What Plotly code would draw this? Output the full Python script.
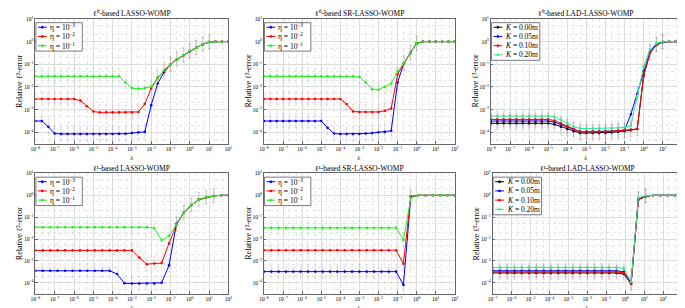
import plotly.graph_objects as go

# ---------------- data (log10 of lambda and of relative l2-error) ----------------
lam_top_exp = [-8, -7.667, -7.333, -7, -6.667, -6.333, -6, -5.667, -5.333, -5, -4.667,
               -4.333, -4, -3.667, -3.333, -3, -2.667, -2.333, -2, -1.667, -1.333, -1,
               -0.667, -0.333, 0, 0.333, 0.667, 1, 1.333, 1.667, 2]
lam_bl_exp = [-8, -7.615, -7.231, -6.846, -6.462, -6.077, -5.692, -5.308, -4.923, -4.538,
              -4.154, -3.769, -3.385, -3.0, -2.615, -2.231, -1.846, -1.462, -1.077, -0.692,
              -0.308, 0.077, 0.462, 0.846, 1.231, 1.615, 2.0]
lam_br_exp = [-7, -6.615, -6.231, -5.846, -5.462, -5.077, -4.692, -4.308, -3.923, -3.538,
              -3.154, -2.769, -2.385, -2.0, -1.615, -1.231, -0.846, -0.462, -0.077, 0.308,
              0.692, 1.077, 1.462, 1.846, 2.231, 2.615, 3.0]

# top-left: l0 LASSO-WOMP
tl_eta3 = [-3.5, -3.5, -3.75, -4.05, -4.07, -4.07, -4.07, -4.07, -4.07, -4.07, -4.07, -4.07,
           -4.07, -4.06, -4.06, -4.03, -4.0, -3.98, -2.8, -1.85, -1.35, -1.0, -0.78, -0.6,
           -0.42, -0.27, -0.12, -0.02, 0, 0, 0]
tl_eta2 = [-2.53, -2.53, -2.53, -2.53, -2.53, -2.53, -2.53, -2.6, -2.85, -3.08, -3.12, -3.12,
           -3.12, -3.12, -3.12, -3.12, -3.1, -2.75, -2.05, -1.6, -1.3, -1.0, -0.78, -0.6,
           -0.42, -0.27, -0.12, -0.02, 0, 0, 0]
tl_eta1 = [-1.53, -1.53, -1.53, -1.53, -1.53, -1.53, -1.53, -1.53, -1.53, -1.53, -1.53, -1.53,
           -1.53, -1.53, -1.8, -2.05, -2.08, -2.05, -1.98, -1.6, -1.25, -1.0, -0.78, -0.6,
           -0.42, -0.27, -0.12, -0.02, 0, 0, 0]

# top-middle: l0 SR-LASSO-WOMP
tm_eta3 = [-3.5, -3.5, -3.5, -3.5, -3.5, -3.5, -3.5, -3.5, -3.5, -3.5, -3.8, -4.05, -4.07,
           -4.07, -4.07, -4.07, -4.05, -4.03, -4.0, -3.98, -3.93, -1.8, -0.95, -0.5, -0.08,
           0, 0, 0, 0, 0, 0]
tm_eta2 = [-2.53, -2.53, -2.53, -2.53, -2.53, -2.53, -2.53, -2.53, -2.53, -2.53, -2.53, -2.53,
           -2.53, -2.75, -3.08, -3.1, -3.1, -3.1, -3.1, -3.05, -2.95, -1.45, -0.95, -0.5,
           -0.08, 0, 0, 0, 0, 0, 0]
tm_eta1 = [-1.53, -1.53, -1.53, -1.53, -1.53, -1.53, -1.53, -1.53, -1.53, -1.53, -1.53, -1.53,
           -1.53, -1.53, -1.53, -1.55, -1.8, -2.1, -2.12, -2.0, -1.85, -1.3, -0.95, -0.5,
           -0.08, 0, 0, 0, 0, 0, 0]

# top-right: l0 LAD-LASSO-WOMP
tr_k000 = [-3.6, -3.6, -3.6, -3.6, -3.6, -3.6, -3.6, -3.6, -3.6, -3.6, -3.65, -3.75, -3.85,
           -3.95, -4.03, -4.03, -4.03, -4.03, -4.03, -4.0, -3.97, -3.95, -3.9, -3.85, -1.5,
           -0.5, -0.15, -0.02, 0, 0, 0]
tr_k005 = [-3.5, -3.5, -3.5, -3.5, -3.5, -3.5, -3.5, -3.5, -3.5, -3.5, -3.55, -3.65, -3.75,
           -3.88, -3.97, -3.97, -3.97, -3.97, -3.97, -3.95, -3.93, -3.9, -3.2, -2.3, -1.3,
           -0.45, -0.12, -0.02, 0, 0, 0]
tr_k010 = [-3.43, -3.43, -3.43, -3.43, -3.43, -3.43, -3.43, -3.43, -3.43, -3.43, -3.48, -3.6,
           -3.72, -3.87, -3.97, -3.97, -3.97, -3.97, -3.97, -3.95, -3.93, -3.92, -3.88, -3.85,
           -1.5, -0.5, -0.15, -0.02, 0, 0, 0]
tr_k020 = [-3.28, -3.28, -3.28, -3.28, -3.28, -3.28, -3.28, -3.28, -3.28, -3.28, -3.32, -3.45,
           -3.6, -3.75, -3.83, -3.83, -3.83, -3.83, -3.83, -3.82, -3.8, -3.78, -3.7, -2.4,
           -1.1, -0.35, -0.08, 0, 0, 0, 0]

# bottom-left: l1 LASSO-WOMP
bl_eta3 = [-3.45, -3.45, -3.45, -3.45, -3.45, -3.45, -3.45, -3.45, -3.45, -3.45, -3.45, -3.6,
           -4.02, -4.03, -4.03, -4.03, -4.03, -4.0, -3.2, -1.3, -0.8, -0.45, -0.2, -0.1,
           -0.03, 0, 0]
bl_eta2 = [-2.52, -2.52, -2.52, -2.52, -2.52, -2.52, -2.52, -2.52, -2.52, -2.52, -2.52, -2.52,
           -2.52, -2.52, -2.85, -3.15, -3.12, -3.1, -2.2, -1.35, -0.8, -0.45, -0.2, -0.1,
           -0.03, 0, 0]
bl_eta1 = [-1.46, -1.46, -1.46, -1.46, -1.46, -1.46, -1.46, -1.46, -1.46, -1.46, -1.46, -1.46,
           -1.46, -1.46, -1.46, -1.46, -1.5, -2.05, -1.85, -1.35, -0.8, -0.45, -0.2, -0.1,
           -0.03, 0, 0]

# bottom-middle: l1 SR-LASSO-WOMP
bm_eta3 = [-3.49, -3.49, -3.49, -3.49, -3.49, -3.49, -3.49, -3.49, -3.49, -3.49, -3.49, -3.49,
           -3.49, -3.49, -3.49, -3.49, -3.49, -3.49, -3.49, -4.1, -0.08, 0, 0, 0, 0, 0, 0]
bm_eta2 = [-2.51, -2.51, -2.51, -2.51, -2.51, -2.51, -2.51, -2.51, -2.51, -2.51, -2.51, -2.51,
           -2.51, -2.51, -2.51, -2.51, -2.51, -2.51, -2.51, -3.13, -0.05, 0, 0, 0, 0, 0, 0]
bm_eta1 = [-1.49, -1.49, -1.49, -1.49, -1.49, -1.49, -1.49, -1.49, -1.49, -1.49, -1.49, -1.49,
           -1.49, -1.49, -1.49, -1.49, -1.49, -1.49, -1.49, -2.04, -0.12, 0, 0, 0, 0, 0, 0]

# bottom-right: l1 LAD-LASSO-WOMP
br_k000 = [-3.55, -3.55, -3.55, -3.55, -3.55, -3.55, -3.55, -3.55, -3.55, -3.55, -3.55, -3.55,
           -3.55, -3.55, -3.55, -3.55, -3.55, -3.55, -3.6, -4.05, -0.2, -0.05, 0, 0, 0, 0, 0]
br_k005 = [-3.45, -3.45, -3.45, -3.45, -3.45, -3.45, -3.45, -3.45, -3.45, -3.45, -3.45, -3.45,
           -3.45, -3.45, -3.45, -3.45, -3.45, -3.45, -3.5, -4.0, -0.15, -0.04, 0, 0, 0, 0, 0]
br_k010 = [-3.5, -3.5, -3.5, -3.5, -3.5, -3.5, -3.5, -3.5, -3.5, -3.5, -3.5, -3.5, -3.5, -3.5,
           -3.5, -3.5, -3.5, -3.5, -3.55, -4.05, -0.2, -0.05, 0, 0, 0, 0, 0]
br_k020 = [-3.3, -3.3, -3.3, -3.3, -3.3, -3.3, -3.3, -3.3, -3.3, -3.3, -3.3, -3.3, -3.3, -3.3,
           -3.3, -3.3, -3.3, -3.3, -3.35, -3.95, -0.12, -0.02, 0, 0, 0, 0, 0]

eta_names = ["η = 10<sup>−3</sup>", "η = 10<sup>−2</sup>", "η = 10<sup>−1</sup>"]
k_names = ["<i>K</i> = 0.00m", "<i>K</i> = 0.05m", "<i>K</i> = 0.10m", "<i>K</i> = 0.20m"]
titles = ["ℓ⁰-based LASSO-WOMP", "ℓ⁰-based SR-LASSO-WOMP", "ℓ⁰-based LAD-LASSO-WOMP",
          "ℓ¹-based LASSO-WOMP", "ℓ¹-based SR-LASSO-WOMP", "ℓ¹-based LAD-LASSO-WOMP"]
x_label = "λ"
y_label = "Relative ℓ²-error"
x_tick_exp_a = [-8, -7, -6, -5, -4, -3, -2, -1, 0, 1, 2]
x_tick_exp_b = [-7, -6, -5, -4, -3, -2, -1, 0, 1, 2, 3]
y_tick_exp = [-4, -3, -2, -1, 0, 1]

# ---------------- styling ----------------
C_BLUE, C_RED, C_GREEN, C_BLACK, C_MINT = "#0000ff", "#ff0000", "#22ee22", "#000000", "#2ee890"
FAINT = {C_BLUE: "rgba(0,0,255,0.18)", C_RED: "rgba(255,0,0,0.18)",
         C_GREEN: "rgba(0,200,0,0.2)", C_BLACK: "rgba(0,0,0,0.16)", C_MINT: "rgba(0,200,120,0.2)"}
FONT = "Liberation Serif"

panels = [
    (lam_top_exp, [tl_eta3, tl_eta2, tl_eta1], eta_names, [C_BLUE, C_RED, C_GREEN]),
    (lam_top_exp, [tm_eta3, tm_eta2, tm_eta1], eta_names, [C_BLUE, C_RED, C_GREEN]),
    (lam_top_exp, [tr_k000, tr_k005, tr_k010, tr_k020], k_names, [C_BLACK, C_BLUE, C_RED, C_MINT]),
    (lam_bl_exp, [bl_eta3, bl_eta2, bl_eta1], eta_names, [C_BLUE, C_RED, C_GREEN]),
    (lam_bl_exp, [bm_eta3, bm_eta2, bm_eta1], eta_names, [C_BLUE, C_RED, C_GREEN]),
    (lam_br_exp, [br_k000, br_k005, br_k010, br_k020], k_names, [C_BLACK, C_BLUE, C_RED, C_MINT]),
]

W, H = 685, 308
boxes = [  # (left, right, top, bottom) in pixels
    (22.7, 218.3, 8.0, 134.0), (254.3, 447.7, 8.0, 134.0), (484.3, 677.7, 8.0, 134.0),
    (22.7, 218.3, 164.0, 285.5), (254.3, 447.7, 164.0, 285.5), (486.0, 678.0, 164.0, 285.5),
]


def px(x):
    return x / W


def py(y):
    return 1 - y / H


fig = go.Figure()
layout = dict(width=W, height=H, margin=dict(l=0, r=0, t=0, b=0),
              paper_bgcolor="white", plot_bgcolor="white",
              font=dict(family=FONT, size=7, color="black"), showlegend=False)
annotations = []
shapes = []

for i, ((lam, series, names, colors), (l, r, t, b)) in enumerate(zip(panels, boxes)):
    n = i + 1
    xa = "x" if n == 1 else f"x{n}"
    ya = "y" if n == 1 else f"y{n}"
    xs = [10 ** e for e in lam]
    for vals, name, col in zip(series, names, colors):
        ys = [10 ** v for v in vals]
        up = [0 if v >= -0.005 else y * 1.1 for v, y in zip(vals, ys)]
        dn = [0 if v >= -0.005 else y * 0.5 for v, y in zip(vals, ys)]
        # faint spread whiskers (decoration)
        fig.add_trace(go.Scatter(
            x=xs, y=ys, mode="markers", marker=dict(size=0.1, color="rgba(0,0,0,0)"),
            error_y=dict(type="data", array=up, arrayminus=dn,
                         color=FAINT[col], thickness=0.6, width=1.2),
            xaxis=xa, yaxis=ya, hoverinfo="skip"))
        fig.add_trace(go.Scatter(
            x=xs, y=ys, mode="lines+markers", name=name,
            line=dict(color=col, width=1.0), marker=dict(size=2.6, color=col, symbol="circle"),
            xaxis=xa, yaxis=ya))
    xd = [px(l), px(r)]
    yd = [py(b), py(t)]
    tick_a = x_tick_exp_b if i == 5 else x_tick_exp_a
    common = dict(type="log", showline=True, mirror=True, linecolor="#666", linewidth=0.6,
                  ticks="inside", ticklen=2.5, tickcolor="#666", tickwidth=0.5,
                  showgrid=True, gridcolor="#dcdcdc", gridwidth=0.6, zeroline=False,
                  tickfont=dict(family=FONT, size=5.5),
                  minor=dict(showgrid=True, gridcolor="#e6e6e6", gridwidth=0.5, griddash="dot",
                             ticks=""))
    layout[f"xaxis{'' if n == 1 else n}"] = dict(
        common, domain=xd, anchor=ya,
        range=[tick_a[0], tick_a[-1]],
        tickmode="array", tickvals=[10 ** e for e in tick_a],
        ticktext=[f"10<sup>{str(e).replace('-', '−')}</sup>" for e in tick_a])
    layout[f"yaxis{'' if n == 1 else n}"] = dict(
        common, domain=yd, anchor=xa, range=[-4.5, 1],
        tickmode="array", tickvals=[10 ** e for e in y_tick_exp],
        ticktext=[f"10<sup>{str(e).replace('-', '−')}</sup>" for e in y_tick_exp])
    # title, axis labels
    annotations.append(dict(text=titles[i], x=px((l + r) / 2), y=py(t + 0.3), xref="paper",
                            yref="paper", xanchor="center", yanchor="bottom", showarrow=False,
                            borderpad=0, font=dict(family=FONT, size=7.5)))
    annotations.append(dict(text=x_label, x=px((l + r) / 2), y=py(b + 19.0), xref="paper",
                            yref="paper", xanchor="center", yanchor="bottom", showarrow=False,
                            borderpad=0, font=dict(family=FONT, size=7)))
    annotations.append(dict(text=y_label, x=px(l - 16), y=py((t + b) / 2), xref="paper",
                            yref="paper", xanchor="center", yanchor="middle", showarrow=False,
                            textangle=-90, font=dict(family=FONT, size=8)))
    # manual legend
    nrow = len(names)
    bx0, by0 = l + 0.5, t + 3.8
    bw = 47 if nrow == 3 else 49
    bh = 9.3 * nrow + 0.8
    shapes.append(dict(type="rect", xref="paper", yref="paper", x0=px(bx0), x1=px(bx0 + bw),
                       y0=py(by0), y1=py(by0 + bh), fillcolor="white",
                       line=dict(color="#222", width=0.6), layer="above"))
    for k, (name, col) in enumerate(zip(names, colors)):
        yy = by0 + 4.6 + 9.3 * k
        shapes.append(dict(type="line", xref="paper", yref="paper", x0=px(bx0 + 2),
                           x1=px(bx0 + 11), y0=py(yy), y1=py(yy),
                           line=dict(color=col, width=1.0), layer="above"))
        shapes.append(dict(type="circle", xref="paper", yref="paper", x0=px(bx0 + 5.3),
                           x1=px(bx0 + 7.7), y0=py(yy - 1.2), y1=py(yy + 1.2),
                           fillcolor=col, line=dict(color=col, width=0.3), layer="above"))
        annotations.append(dict(text=name, x=px(bx0 + 12), y=py(yy), xref="paper",
                                yref="paper", xanchor="left", yanchor="middle",
                                showarrow=False, font=dict(family=FONT, size=7.5)))

layout["annotations"] = annotations
layout["shapes"] = shapes
fig.update_layout(**layout)
fig.write_html("out.html")
